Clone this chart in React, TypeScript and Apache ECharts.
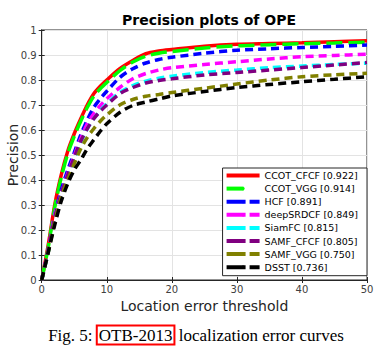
import React, { useEffect, useRef } from "react";
import * as echarts from "echarts";

const thresholds = [0, 1, 2, 3, 4, 5, 6, 7, 8, 9, 10, 12, 14, 16, 18, 20, 25, 30, 35, 40, 45, 50];

const ccotCfcf = [0, 0.14, 0.30, 0.42, 0.515, 0.585, 0.645, 0.70, 0.745, 0.775, 0.80, 0.845, 0.878, 0.905, 0.916, 0.922, 0.935, 0.943, 0.946, 0.949, 0.953, 0.957];
const ccotVgg = [0, 0.13, 0.29, 0.41, 0.505, 0.575, 0.635, 0.69, 0.735, 0.765, 0.79, 0.837, 0.872, 0.895, 0.907, 0.914, 0.928, 0.937, 0.941, 0.945, 0.948, 0.951];
const hcf = [0, 0.12, 0.26, 0.36, 0.44, 0.51, 0.58, 0.64, 0.69, 0.725, 0.755, 0.81, 0.845, 0.868, 0.882, 0.891, 0.907, 0.919, 0.925, 0.93, 0.935, 0.94];
const deepSrdcf = [0, 0.12, 0.26, 0.345, 0.425, 0.497, 0.565, 0.625, 0.665, 0.697, 0.725, 0.77, 0.805, 0.826, 0.84, 0.849, 0.862, 0.873, 0.884, 0.893, 0.898, 0.903];
const siamFc = [0, 0.11, 0.25, 0.34, 0.41, 0.48, 0.55, 0.605, 0.645, 0.678, 0.705, 0.75, 0.778, 0.795, 0.807, 0.815, 0.83, 0.84, 0.849, 0.856, 0.862, 0.867];
const samfCfcf = [0, 0.12, 0.25, 0.345, 0.42, 0.49, 0.555, 0.605, 0.645, 0.675, 0.70, 0.745, 0.77, 0.788, 0.798, 0.805, 0.82, 0.83, 0.84, 0.85, 0.86, 0.87];
const samfVgg = [0, 0.11, 0.23, 0.33, 0.40, 0.465, 0.525, 0.57, 0.605, 0.635, 0.66, 0.70, 0.722, 0.735, 0.742, 0.75, 0.767, 0.784, 0.80, 0.813, 0.821, 0.827];
const dsst = [0, 0.11, 0.22, 0.315, 0.385, 0.44, 0.48, 0.525, 0.56, 0.595, 0.625, 0.67, 0.698, 0.712, 0.724, 0.736, 0.754, 0.77, 0.782, 0.793, 0.803, 0.813];

const seriesNames = [
  "CCOT_CFCF [0.922]",
  "CCOT_VGG [0.914]",
  "HCF [0.891]",
  "deepSRDCF [0.849]",
  "SiamFC [0.815]",
  "SAMF_CFCF [0.805]",
  "SAMF_VGG [0.750]",
  "DSST [0.736]",
];
const seriesValues = [ccotCfcf, ccotVgg, hcf, deepSrdcf, siamFc, samfCfcf, samfVgg, dsst];
const seriesColors = ["#ff0000", "#00ff00", "#0000ff", "#ff00ff", "#00ffff", "#800080", "#808000", "#000000"];
const seriesDash: any[] = ["solid", [16, 6], [8, 5], [8, 5], [8, 5], [8, 5], [8, 5], [8, 5]];
const legendDash: any[] = ["solid", [17, 40], [19, 4], [19, 4], [19, 4], [19, 4], [19, 4], [19, 4]];

const xTicks = { min: 0, max: 50, interval: 10 };
const yTicks = { min: 0, max: 1, interval: 0.1 };

const axisColor = "#262626";
const font = "DejaVu Sans";

export default function App() {
  const ref = useRef<HTMLDivElement>(null);
  useEffect(() => {
    document.body.style.margin = "0";
    if (!ref.current) return;
    const chart = echarts.init(ref.current, undefined, { renderer: "svg" });
    const series = seriesNames.map((name, i) => ({
      name,
      type: "line",
      data: thresholds.map((t, j) => [t, seriesValues[i][j]]),
      showSymbol: false,
      symbol: "none",
      smooth: 0.3,
      lineStyle: { color: seriesColors[i], width: 3.5, type: seriesDash[i] },
      itemStyle: { color: seriesColors[i] },
      z: 2 + i,
    }));
    chart.setOption({
      animation: false,
      backgroundColor: "#ffffff",
      title: {
        text: "Precision plots of OPE",
        left: 204,
        textAlign: "center",
        top: 8,
        textStyle: { fontFamily: font, fontWeight: "bold", fontSize: 14, color: "#000" },
      },
      grid: {
        left: 41.7,
        right: 10,
        top: 30,
        bottom: 68,
        containLabel: false,
        outerBoundsMode: "none",
        show: true,
        borderColor: axisColor,
        borderWidth: 1,
      },
      legend: {
        data: seriesNames.map((n, i) => ({
          name: n,
          lineStyle: { color: seriesColors[i], width: 4, type: legendDash[i] },
        })),
        orient: "vertical",
        right: 10,
        top: 168,
        itemWidth: 33,
        itemHeight: 4,
        itemGap: 0.1,
        padding: [1, 9, 2, 2],
        backgroundColor: "#ffffff",
        borderColor: axisColor,
        borderWidth: 1,
        borderRadius: 0,
        textStyle: { fontFamily: font, fontSize: 9.5, color: "#000", lineHeight: 13 },
        selectedMode: false,
      },
      xAxis: [
        {
          type: "value",
          ...xTicks,
          name: "Location error threshold",
          nameLocation: "middle",
          nameGap: 19,
          nameTextStyle: { fontFamily: font, fontSize: 14, color: axisColor },
          axisLine: { show: true, lineStyle: { color: axisColor } },
          axisTick: { show: true, inside: true, length: 3, lineStyle: { color: axisColor } },
          axisLabel: { fontFamily: font, fontSize: 10, color: "#404040", margin: 4, showMaxLabel: true },
          splitLine: { show: true, lineStyle: { color: "#e3e3e3" } },
        },
        {
          type: "value",
          ...xTicks,
          position: "top",
          axisLine: { show: true, lineStyle: { color: axisColor } },
          axisTick: { show: true, inside: true, length: 3, lineStyle: { color: axisColor } },
          axisLabel: { show: false },
          splitLine: { show: false },
        },
      ],
      yAxis: [
        {
          type: "value",
          ...yTicks,
          axisLine: { show: true, lineStyle: { color: axisColor } },
          axisTick: { show: true, inside: true, length: 3, lineStyle: { color: axisColor } },
          axisLabel: { fontFamily: font, fontSize: 10, color: "#404040", margin: 5 },
          splitLine: { show: true, lineStyle: { color: "#e3e3e3" } },
        },
        {
          type: "value",
          ...yTicks,
          position: "right",
          axisLine: { show: true, lineStyle: { color: axisColor } },
          axisTick: { show: true, inside: true, length: 3, lineStyle: { color: axisColor } },
          axisLabel: { show: false },
          splitLine: { show: false },
        },
      ],
      series,
      graphic: [
        {
          type: "text",
          x: 13,
          y: 155,
          rotation: Math.PI / 2,
          style: {
            text: "Precision",
            fontFamily: font,
            fontSize: 14,
            fill: axisColor,
            align: "center",
            verticalAlign: "middle",
          },
        },
        {
          type: "text",
          x: 196,
          y: 335,
          style: {
            text: "{a|Fig. 5: }{b|OTB-2013}{a| localization error curves}",
            align: "center",
            verticalAlign: "middle",
            rich: {
              a: { fontFamily: "Liberation Serif", fontSize: 17, fill: "#000" },
              b: {
                fontFamily: "Liberation Serif",
                fontSize: 17,
                fill: "#000",
                borderColor: "#ff0000",
                borderWidth: 2,
                padding: [1, 2, 1, 2],
              },
            },
          },
        },
      ],
    });
    return () => chart.dispose();
  }, []);
  return <div ref={ref} style={{ width: 377, height: 348 }} />;
}
